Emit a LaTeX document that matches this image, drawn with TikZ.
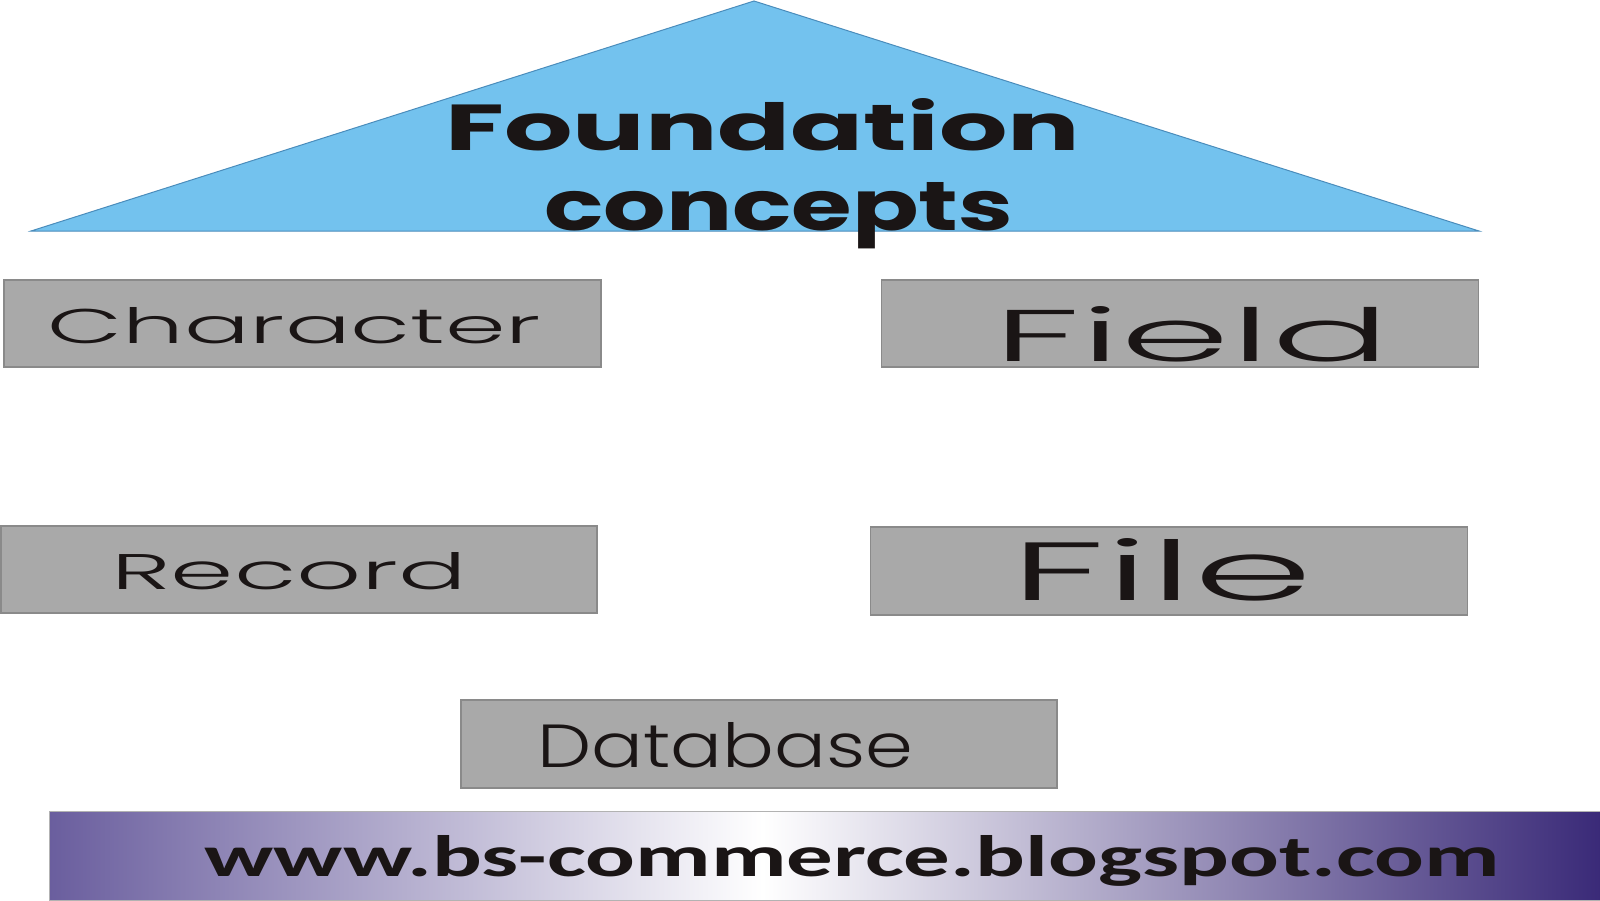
\documentclass[tikz,border=0pt]{standalone}
\usepackage{fontspec}
\usepackage{graphicx}
\usetikzlibrary{positioning}
\newfontfamily\gothic{Poppins}
\newfontfamily\gothiclight{Poppins}[UprightFont={* Light}]
\newfontfamily\blogfont{Carlito}
\definecolor{roofblue}{HTML}{73C2EE}
\definecolor{roofedge}{HTML}{4A8CBB}
\definecolor{slab}{HTML}{A9A9A9}
\definecolor{slabedge}{HTML}{8A8A8A}
\definecolor{ink}{HTML}{1A1515}
\definecolor{bandleft}{HTML}{6A5E9E}
\definecolor{bandright}{HTML}{3A2A78}
\pgfdeclarehorizontalshading{bandshade}{100bp}{color(0bp)=(bandleft); color(25bp)=(bandleft);
  color(48bp)=(white); color(75bp)=(bandright); color(100bp)=(bandright)}
% width, height (pt) of a stretched word
\newcommand{\stretchword}[3]{\resizebox{#1pt}{#2pt}{#3}}
\tikzset{
  slabbox/.style={draw=slabedge, fill=slab, line width=1.2pt,
    minimum width=597pt, minimum height=87pt, inner sep=0pt},
  slabword/.style={anchor=base west, inner sep=0pt, text=ink},
}
\begin{document}
\begin{tikzpicture}[x=1pt, y=-1pt]
  \useasboundingbox (0,0) rectangle (1600,900);

  % roof
  \coordinate (apex) at (754,1);
  \coordinate (eaveL) at (31,231);
  \coordinate (eaveR) at (1479,231);
  \filldraw [fill=roofblue, draw=roofedge, line width=1pt] (eaveL) -- (apex) -- (eaveR) -- cycle;
  \node [slabword] (roof1) at (445,150) {\stretchword{635}{52}{\gothic\bfseries Foundation}};
  \node [slabword] (roof2) at (544,230) {\stretchword{469}{48}{\gothic\bfseries concepts}};

  % the four slabs
  \node [slabbox] (chr) at (302.5,323.5) {};
  \node [slabbox, right=279pt of chr] (fld) {};
  \node [slabbox, minimum width=596pt] (rec) at (299,569.5) {};
  \node [slabbox, minimum height=88pt, right=272pt of rec, yshift=-1.5pt] (fil) {};
  \node [slabbox, minimum width=596pt, minimum height=88pt] (dbs) at (759,744) {};

  \node [slabword] (chrword) at (47,343)  {\stretchword{494}{36}{\gothiclight Character}};
  \node [slabword] (fldword) at (993,361) {\stretchword{397}{55}{\gothiclight Field}};
  \node [slabword] (recword) at (111,589) {\stretchword{356}{37}{\gothiclight Record}};
  \node [slabword] (filword) at (1010,600) {\stretchword{303}{62}{\gothiclight File}};
  \node [slabword] (dbsword) at (537,767) {\stretchword{376}{45}{\gothiclight Database}};

  % banner
  \node [draw=gray!60, line width=0.6pt, shading=bandshade,
    minimum width=1551pt, minimum height=89pt, inner sep=0pt, anchor=north west] (band) at (49,811) {};
  \node [slabword] (bandword) at (204,876) {\stretchword{1296}{41}{\blogfont\bfseries www.bs-commerce.blogspot.com}};
\end{tikzpicture}
\end{document}
